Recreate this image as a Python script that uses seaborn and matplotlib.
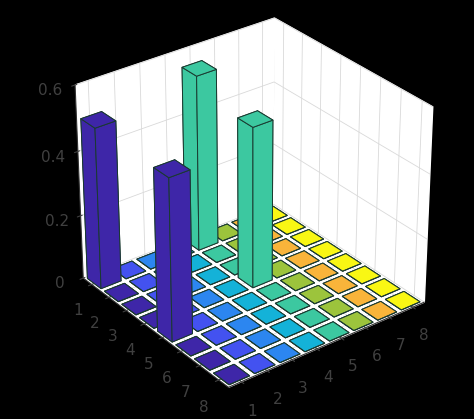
import numpy as np
import matplotlib
matplotlib.use("Agg")
import matplotlib.pyplot as plt
import seaborn as sns

sns.set_style("white")

rows = [1, 2, 3, 4, 5, 6, 7, 8]
cols = [1, 2, 3, 4, 5, 6, 7, 8]
# nonzero matrix entries (row, col, value); all others are 0
nz_rows = [1, 5, 1, 4]
nz_cols = [1, 1, 5, 5]
nz_vals = [0.50, 0.50, 0.55, 0.50]
col_colors = ["#3E26A8", "#4352F0", "#2C86F0", "#14B2D8", "#3CC8A0",
              "#9CC43C", "#F9B43A", "#F9F714"]

Z = np.zeros((8, 8))
for r, c, v in zip(nz_rows, nz_cols, nz_vals):
    Z[r - 1, c - 1] = v

fig = plt.figure(figsize=(4.74, 4.19), dpi=100, facecolor="black")
ax = fig.add_axes([0.02, -0.0, 1.0, 1.04], projection="3d")
ax.set_facecolor("black")

xs, ys, dzs, cs = [], [], [], []
w = 0.8
for i, r in enumerate(rows):
    for j, c in enumerate(cols):
        xs.append(c - w / 2)
        ys.append(r - w / 2)
        dzs.append(Z[i, j])
        cs.append(col_colors[j])
ax.bar3d(xs, ys, np.zeros(len(xs)), w, w, dzs, color=cs, edgecolor="#1a3a30",
         linewidth=0.7, shade=False)

ax.set_xlim(0.5, 8.5)
ax.set_ylim(8.5, 0.5)
ax.set_zlim(0, 0.6)
ax.set_xticks(cols)
ax.set_yticks(rows)
ax.set_zticks([0, 0.2, 0.4, 0.6])
ax.set_zticklabels(["0", "0.2", "0.4", "0.6"])
for a in (ax.xaxis, ax.yaxis, ax.zaxis):
    a.set_pane_color((1, 1, 1, 1))
    a._axinfo["grid"]["color"] = (0.85, 0.85, 0.85, 1)
    a._axinfo["grid"]["linewidth"] = 0.6
    a.line.set_color("#333333")
ax.tick_params(colors="#404040", labelsize=11)
ax.view_init(elev=30, azim=-127.5)
ax.set_box_aspect((1, 1, 0.9), zoom=0.93)

fig.savefig("out.png", dpi=100, facecolor="black")
